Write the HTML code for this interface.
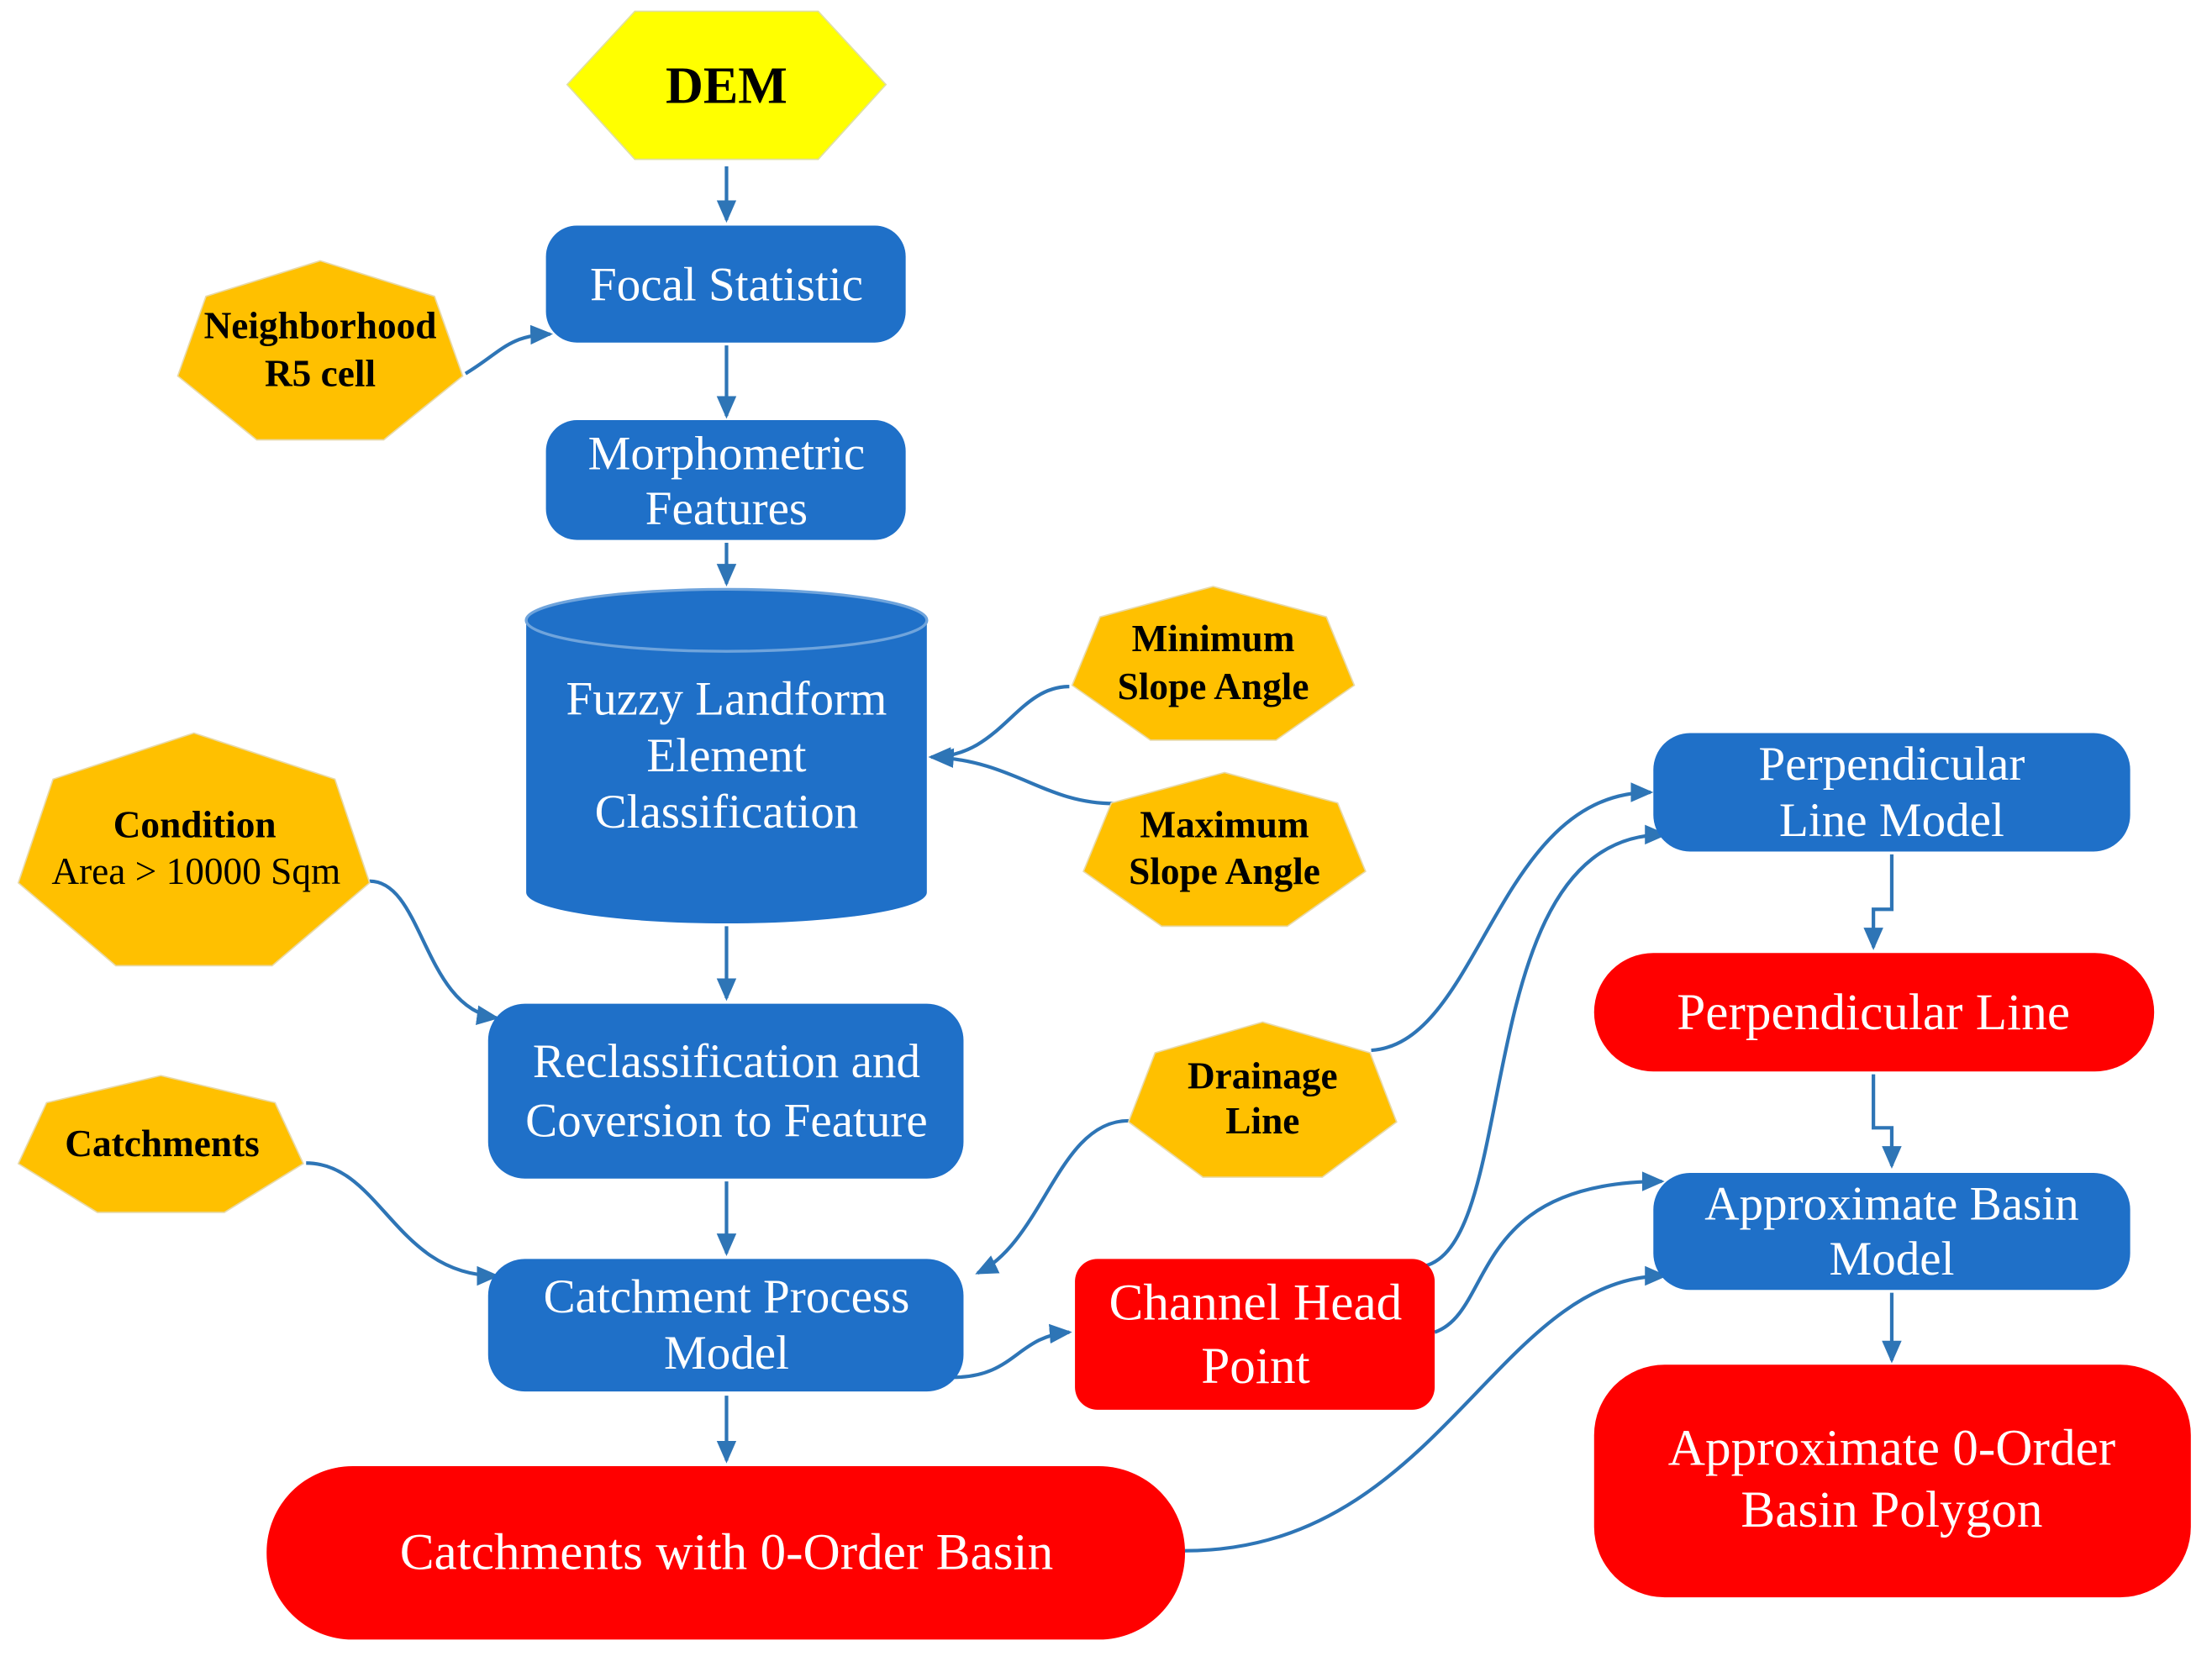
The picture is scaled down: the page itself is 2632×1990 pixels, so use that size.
<!DOCTYPE html>
<html><head><meta charset="utf-8"><style>
html,body{margin:0;padding:0;background:#fff;}
svg{display:block;}
.b{fill:#1F70C8;}
.r{fill:#FF0000;}
.o{fill:#FFC000;stroke:#E8D9A8;stroke-width:1;}
.t{font-family:"Liberation Serif",serif;fill:#fff;font-size:34px;text-anchor:middle;}
.tr{font-family:"Liberation Serif",serif;fill:#fff;font-size:36.5px;text-anchor:middle;}
.k{font-family:"Liberation Serif",serif;fill:#000;font-size:27px;font-weight:bold;text-anchor:middle;}
.c{fill:none;stroke:#2E75B6;stroke-width:2.5;}
</style></head><body>
<svg width="2632" height="1990" viewBox="0 0 1568 1186" preserveAspectRatio="none" xmlns="http://www.w3.org/2000/svg">
<defs>
<marker id="m" markerWidth="16" markerHeight="16" refX="14" refY="8" orient="auto" markerUnits="userSpaceOnUse" viewBox="0 0 16 16">
<path d="M0,1 L16,8 L0,15 z" fill="#2E75B6"/>
</marker>
</defs>

<polygon points="402,60 450,8 580,8 628,60 580,113 450,113" fill="#FFFF00" stroke="#E0E0A0" stroke-width="1"/>
<text x="515" y="73" class="k" style="font-size:37px">DEM</text>

<g class="c">
<path d="M515,118 L515,156" marker-end="url(#m)"/>
<path d="M515,245 L515,295" marker-end="url(#m)"/>
<path d="M515,385 L515,414" marker-end="url(#m)"/>
<path d="M515,657 L515,708" marker-end="url(#m)"/>
<path d="M515,838 L515,889" marker-end="url(#m)"/>
<path d="M515,990 L515,1036" marker-end="url(#m)"/>
<path d="M330,265 C355,250 360,238 390,237" marker-end="url(#m)"/>
<path d="M758,487 C720,487 710,537 660,537" marker-end="url(#m)"/>
<path d="M790,570 C740,570 720,540 662,537" marker-end="url(#m)"/>
<path d="M262,625 C300,625 300,715 352,722" marker-end="url(#m)"/>
<path d="M217,825 C270,825 280,905 352,905" marker-end="url(#m)"/>
<path d="M800,795 C750,795 740,880 693,903" marker-end="url(#m)"/>
<path d="M972,745 C1050,740 1060,562 1170,562" marker-end="url(#m)"/>
<path d="M675,977 C720,977 720,948 758,945" marker-end="url(#m)"/>
<path d="M1010,898 C1080,880 1040,592 1180,592" marker-end="url(#m)"/>
<path d="M840,1100 C1020,1100 1060,905 1180,905" marker-end="url(#m)"/>
<path d="M1017,945 C1060,930 1040,838 1178,838" marker-end="url(#m)"/>
<path d="M1341,606 L1341,645 L1328,645 L1328,672" marker-end="url(#m)"/>
<path d="M1328,762 L1328,800 L1341,800 L1341,827" marker-end="url(#m)"/>
<path d="M1341,917 L1341,965" marker-end="url(#m)"/>
</g>

<rect class="b" x="387" y="160" width="255" height="83" rx="22"/>
<text class="t" x="515" y="213">Focal Statistic</text>
<rect class="b" x="387" y="298" width="255" height="85" rx="22"/>
<text class="t" x="515" y="333">Morphometric</text>
<text class="t" x="515" y="372">Features</text>

<path class="b" d="M373,440 L373,633 A142,22 0 0 0 657,633 L657,440 z"/>
<ellipse cx="515" cy="440" rx="142" ry="22" fill="#1F70C8" stroke="#6FA4DC" stroke-width="2"/>
<text class="t" x="515" y="507">Fuzzy Landform</text>
<text class="t" x="515" y="547">Element</text>
<text class="t" x="515" y="587">Classification</text>

<rect class="b" x="346" y="712" width="337" height="124" rx="26"/>
<text class="t" x="515" y="764">Reclassification and</text>
<text class="t" x="515" y="806">Coversion to Feature</text>
<rect class="b" x="346" y="893" width="337" height="94" rx="26"/>
<text class="t" x="515" y="931">Catchment Process</text>
<text class="t" x="515" y="971">Model</text>

<rect class="b" x="1172" y="520" width="338" height="84" rx="26"/>
<text class="t" x="1341" y="553">Perpendicular</text>
<text class="t" x="1341" y="593">Line Model</text>
<rect class="b" x="1172" y="832" width="338" height="83" rx="26"/>
<text class="t" x="1341" y="865">Approximate Basin</text>
<text class="t" x="1341" y="904">Model</text>

<rect class="r" x="762" y="893" width="255" height="107" rx="16"/>
<text class="tr" x="890" y="936">Channel Head</text>
<text class="tr" x="890" y="981">Point</text>
<rect class="r" x="189" y="1040" width="651" height="123" rx="61"/>
<text class="tr" x="515" y="1113">Catchments with 0-Order Basin</text>
<rect class="r" x="1130" y="676" width="397" height="84" rx="42"/>
<text class="tr" x="1328" y="730">Perpendicular Line</text>
<rect class="r" x="1130" y="968" width="423" height="165" rx="50"/>
<text class="tr" x="1341" y="1039">Approximate 0-Order</text>
<text class="tr" x="1341" y="1083">Basin Polygon</text>

<polygon class="o" points="227,185 308,210.2 328,266.7 272,312 182,312 126,266.7 146,210.2"/>
<text class="k" x="227" y="240">Neighborhood</text>
<text class="k" x="227" y="274">R5 cell</text>
<polygon class="o" points="860,416 940.2,437.6 960,486.1 904.5,525 815.5,525 760,486.1 779.8,437.6"/>
<text class="k" x="860" y="462">Minimum</text>
<text class="k" x="860" y="496">Slope Angle</text>
<polygon class="o" points="868,548 948.2,569.6 968,618.1 912.5,657 823.5,657 768,618.1 787.8,569.6"/>
<text class="k" x="868" y="594">Maximum</text>
<text class="k" x="868" y="627">Slope Angle</text>
<polygon class="o" points="137.5,520 237.4,552.7 262,626.2 192.9,685 82.1,685 13,626.2 37.6,552.7"/>
<text class="k" x="138" y="594">Condition</text>
<text class="k" x="139" y="627" style="font-weight:normal">Area &gt; 10000 Sqm</text>
<polygon class="o" points="114,763 195,782.2 215,825.4 159,860 69,860 13,825.4 33,782.2"/>
<text class="k" x="115" y="820">Catchments</text>
<polygon class="o" points="895,725 971.2,746.8 990,795.8 937.3,835 852.7,835 800,795.8 818.8,746.8"/>
<text class="k" x="895" y="772">Drainage</text>
<text class="k" x="895" y="804">Line</text>
</svg>
</body></html>
